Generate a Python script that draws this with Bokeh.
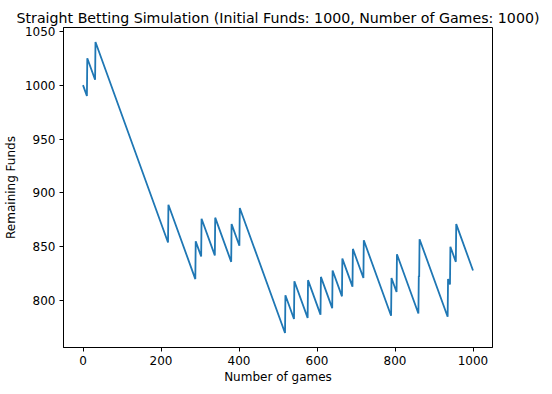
from bokeh.plotting import figure
from bokeh.models import ColumnDataSource, FixedTicker, Range1d
from bokeh.embed import file_html
from bokeh.resources import INLINE

# Turning points of the remaining-funds curve
games = [0, 10, 11, 31, 32, 218, 219, 288, 289, 303, 304, 338, 339, 380, 381,
         401, 402, 518, 519, 541, 542, 576, 577, 609, 610, 639, 640, 664, 665,
         691, 692, 719, 720, 790, 791, 804, 805, 860, 861, 862, 863, 935, 936,
         941, 942, 956, 957, 1000]
funds = [1000, 990, 1025, 1005, 1040, 854, 889, 820, 855, 841, 876, 842, 877,
         836, 871, 851, 886, 770, 805, 783, 818, 784, 819, 787, 822, 793, 828,
         804, 839, 813, 848, 821, 856, 786, 821, 808, 843, 788, 823, 822, 857,
         785, 820, 815, 850, 836, 871, 828]

x_ticks = [0, 200, 400, 600, 800, 1000]
y_ticks = [800, 850, 900, 950, 1000, 1050]

title_text = "Straight Betting Simulation (Initial Funds: 1000, Number of Games: 1000)"
x_label = "Number of games"
y_label = "Remaining Funds"

FONT = "DejaVu Sans"

xmin, xmax = min(games), max(games)
ymin, ymax = min(funds), max(funds)
xpad = 0.05 * (xmax - xmin)
ypad = 0.05 * (ymax - ymin)

p = figure(frame_width=429, frame_height=320, output_backend="svg", toolbar_location=None,
           x_range=Range1d(xmin - xpad, xmax + xpad),
           y_range=Range1d(ymin - ypad, ymax + ypad),
           min_border_left=59, min_border_right=53,
           min_border_top=27, min_border_bottom=36)

p.title.text = title_text
p.title.align = "center"
p.title.text_font = FONT
p.title.text_font_size = "14.2px"
p.title.text_font_style = "normal"
p.title.text_color = "black"
p.title.standoff = 4
p.title.offset = 0

src = ColumnDataSource(dict(x=games, y=funds))
p.line("x", "y", source=src, line_color="#1f77b4", line_width=1.8)

p.xgrid.visible = False
p.ygrid.visible = False
p.outline_line_color = "black"
p.outline_line_width = 1
p.background_fill_color = "white"
p.border_fill_color = "white"

for ax, ticks, lab, lstand in ((p.xaxis[0], x_ticks, x_label, 2), (p.yaxis[0], y_ticks, y_label, 4)):
    ax.ticker = FixedTicker(ticks=ticks)
    ax.minor_tick_line_color = None
    ax.major_tick_out = 4
    ax.major_tick_in = 0
    ax.major_tick_line_color = "black"
    ax.axis_line_color = "black"
    ax.major_label_text_font = FONT
    ax.major_label_text_font_size = "12px"
    ax.major_label_text_color = "black"
    ax.major_label_standoff = 4
    ax.axis_label = lab
    ax.axis_label_text_font = FONT
    ax.axis_label_text_font_size = "12px"
    ax.axis_label_text_font_style = "normal"
    ax.axis_label_text_color = "black"
    ax.axis_label_standoff = lstand

open("out.html", "w").write(file_html(p, INLINE))
